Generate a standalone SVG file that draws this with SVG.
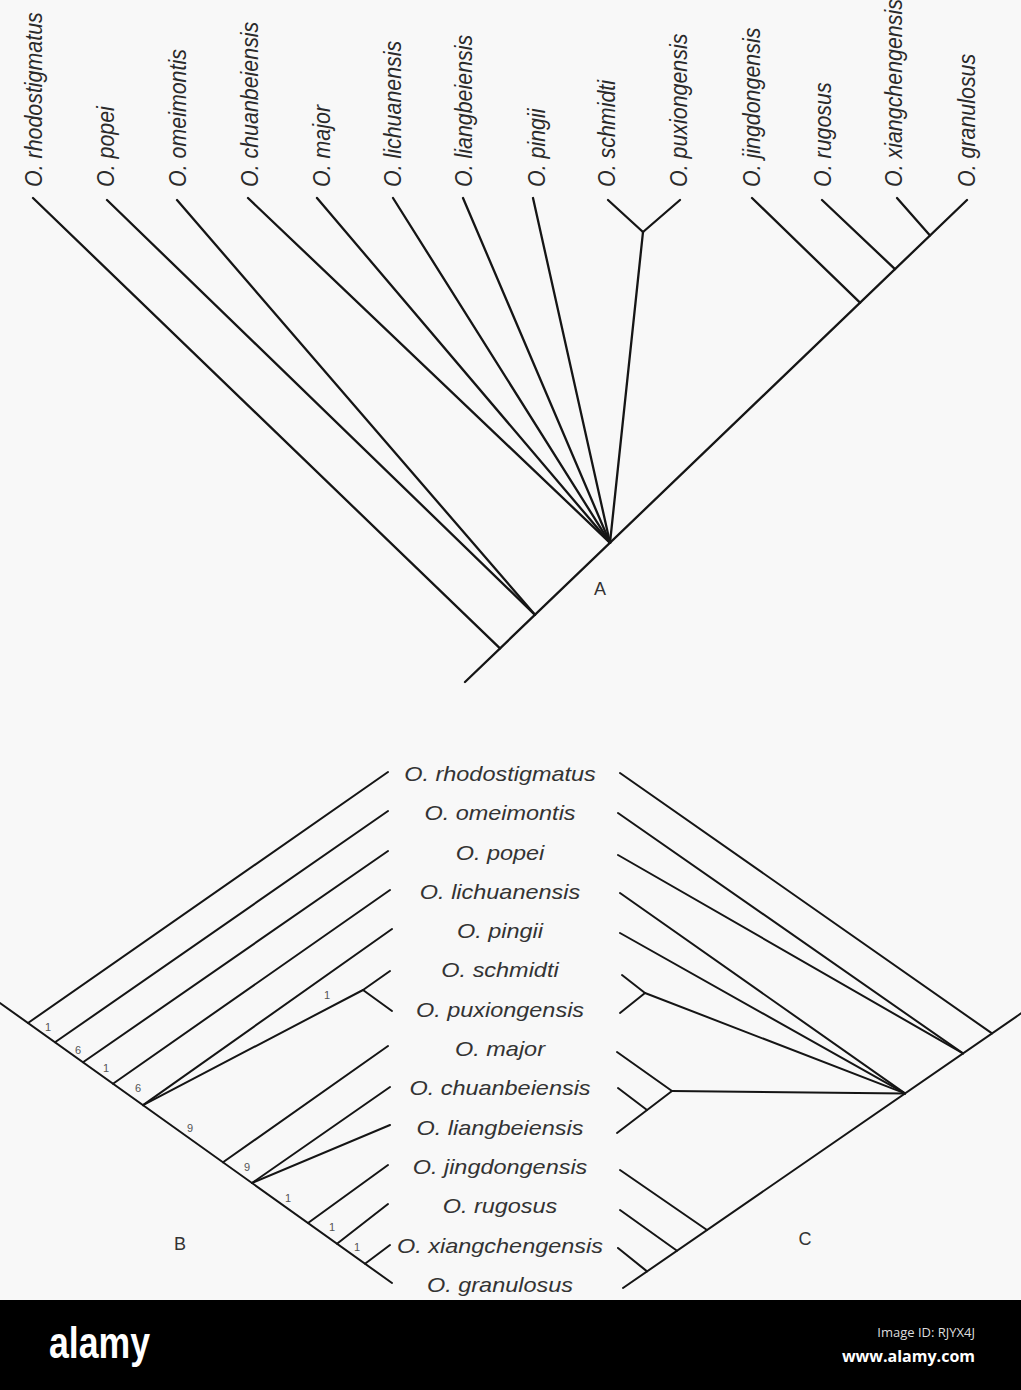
<svg xmlns="http://www.w3.org/2000/svg" width="1021" height="1390" viewBox="0 0 1021 1390">
<style>
.bg{fill:#f8f8f8}
.ln{stroke:#151515;stroke-width:2;fill:none;stroke-linecap:round;stroke-linejoin:round}
.lnA{stroke:#151515;stroke-width:2.3;fill:none;stroke-linecap:round;stroke-linejoin:round}
.ta{font-family:"Liberation Sans",Arial,sans-serif;font-style:italic;font-size:21.4px;fill:#2a2a2a}
.tb{font-family:"Liberation Sans",Arial,sans-serif;font-style:italic;font-size:20.4px;fill:#333;text-anchor:middle}
.num{font-family:"Liberation Sans",Arial,sans-serif;font-size:11px;fill:#555;text-anchor:middle}
.let{font-family:"Liberation Sans",Arial,sans-serif;font-size:18px;fill:#333;text-anchor:middle}
</style>
<rect class="bg" x="0" y="0" width="1021" height="1390"/>

<!-- Tree A labels -->
<g id="A-labels">
<g id="A-rhodostigmatus"><text class="ta" transform="translate(42,187) rotate(-90) scale(1,1.1)">O. rhodostigmatus</text></g>
<g id="A-popei"><text class="ta" transform="translate(114,187) rotate(-90) scale(1,1.1)">O. popei</text></g>
<g id="A-omeimontis"><text class="ta" transform="translate(186,187) rotate(-90) scale(1,1.1)">O. omeimontis</text></g>
<g id="A-chuanbeiensis"><text class="ta" transform="translate(258,187) rotate(-90) scale(1,1.1)">O. chuanbeiensis</text></g>
<g id="A-major"><text class="ta" transform="translate(330,187) rotate(-90) scale(1,1.1)">O. major</text></g>
<g id="A-lichuanensis"><text class="ta" transform="translate(401,187) rotate(-90) scale(1,1.1)">O. lichuanensis</text></g>
<g id="A-liangbeiensis"><text class="ta" transform="translate(472,187) rotate(-90) scale(1,1.1)">O. liangbeiensis</text></g>
<g id="A-pingii"><text class="ta" transform="translate(545,187) rotate(-90) scale(1,1.1)">O. pingii</text></g>
<g id="A-schmidti"><text class="ta" transform="translate(615,187) rotate(-90) scale(1,1.1)">O. schmidti</text></g>
<g id="A-puxiongensis"><text class="ta" transform="translate(687,187) rotate(-90) scale(1,1.1)">O. puxiongensis</text></g>
<g id="A-jingdongensis"><text class="ta" transform="translate(760,187) rotate(-90) scale(1,1.1)">O. jingdongensis</text></g>
<g id="A-rugosus"><text class="ta" transform="translate(831,187) rotate(-90) scale(1,1.1)">O. rugosus</text></g>
<g id="A-xiangchengensis"><text class="ta" transform="translate(902,187) rotate(-90) scale(1,1.1)">O. xiangchengensis</text></g>
<g id="A-granulosus"><text class="ta" transform="translate(975,187) rotate(-90) scale(1,1.1)">O. granulosus</text></g>
<g id="A-letter"><text class="let" x="600" y="595">A</text></g>
</g>

<!-- Tree A connectors -->
<g id="A-connectors" class="lnA">
<line x1="465" y1="682" x2="967" y2="200"/>
<line x1="33" y1="198" x2="500" y2="648.4"/>
<line x1="107" y1="200" x2="535" y2="614.8"/>
<line x1="177" y1="200" x2="535" y2="614.8"/>
<line x1="248" y1="198" x2="610" y2="542.8"/>
<line x1="317" y1="198" x2="610" y2="542.8"/>
<line x1="393" y1="198" x2="610" y2="542.8"/>
<line x1="463" y1="198" x2="610" y2="542.8"/>
<line x1="533" y1="198" x2="610" y2="542.8"/>
<line x1="643" y1="232" x2="610" y2="542.8"/>
<line x1="608" y1="200" x2="643" y2="232"/>
<line x1="680" y1="200" x2="643" y2="232"/>
<line x1="752" y1="198" x2="860" y2="302.7"/>
<line x1="822" y1="200" x2="895" y2="269.1"/>
<line x1="897" y1="198" x2="930" y2="235.5"/>
</g>

<!-- Shared middle labels (trees B and C) -->
<g id="BC-labels">
<g id="rhodostigmatus"><text class="tb" transform="translate(500,781) scale(1.15,1)">O. rhodostigmatus</text></g>
<g id="omeimontis"><text class="tb" transform="translate(500,820) scale(1.15,1)">O. omeimontis</text></g>
<g id="popei"><text class="tb" transform="translate(500,859.5) scale(1.15,1)">O. popei</text></g>
<g id="lichuanensis"><text class="tb" transform="translate(500,899) scale(1.15,1)">O. lichuanensis</text></g>
<g id="pingii"><text class="tb" transform="translate(500,938) scale(1.15,1)">O. pingii</text></g>
<g id="schmidti"><text class="tb" transform="translate(500,977) scale(1.15,1)">O. schmidti</text></g>
<g id="puxiongensis"><text class="tb" transform="translate(500,1017) scale(1.15,1)">O. puxiongensis</text></g>
<g id="major"><text class="tb" transform="translate(500,1056) scale(1.15,1)">O. major</text></g>
<g id="chuanbeiensis"><text class="tb" transform="translate(500,1095) scale(1.15,1)">O. chuanbeiensis</text></g>
<g id="liangbeiensis"><text class="tb" transform="translate(500,1135) scale(1.15,1)">O. liangbeiensis</text></g>
<g id="jingdongensis"><text class="tb" transform="translate(500,1174) scale(1.15,1)">O. jingdongensis</text></g>
<g id="rugosus"><text class="tb" transform="translate(500,1213) scale(1.15,1)">O. rugosus</text></g>
<g id="xiangchengensis"><text class="tb" transform="translate(500,1253) scale(1.15,1)">O. xiangchengensis</text></g>
<g id="granulosus"><text class="tb" transform="translate(500,1292) scale(1.15,1)">O. granulosus</text></g>
</g>

<!-- Tree B connectors -->
<g id="B-connectors" class="ln">
<line x1="0" y1="1003" x2="392" y2="1283"/>
<line x1="28" y1="1023" x2="388" y2="772"/>
<line x1="55" y1="1042.3" x2="388" y2="811"/>
<line x1="83" y1="1062.3" x2="388" y2="851"/>
<line x1="113" y1="1083.7" x2="390" y2="890"/>
<line x1="143" y1="1105.1" x2="392" y2="929"/>
<line x1="143" y1="1105.1" x2="363" y2="990"/>
<line x1="363" y1="990" x2="390" y2="971"/>
<line x1="363" y1="990" x2="392" y2="1011"/>
<line x1="223" y1="1162.3" x2="388" y2="1046"/>
<line x1="252" y1="1183" x2="390" y2="1087"/>
<line x1="252" y1="1183" x2="390" y2="1125"/>
<line x1="308" y1="1223" x2="388" y2="1165"/>
<line x1="337" y1="1243.7" x2="388" y2="1204"/>
<line x1="365" y1="1263.7" x2="390" y2="1245"/>
</g>
<g id="B-support">
<text class="num" x="48" y="1031">1</text>
<text class="num" x="78" y="1054">6</text>
<text class="num" x="106" y="1072">1</text>
<text class="num" x="138" y="1092">6</text>
<text class="num" x="190" y="1132">9</text>
<text class="num" x="247" y="1171">9</text>
<text class="num" x="288" y="1202">1</text>
<text class="num" x="332" y="1231">1</text>
<text class="num" x="357" y="1251">1</text>
<text class="num" x="327" y="999">1</text>
<text class="let" x="180" y="1250">B</text>
</g>

<!-- Tree C connectors -->
<g id="C-connectors" class="ln">
<line x1="623" y1="1288" x2="1021" y2="1013.4"/>
<line x1="620" y1="773" x2="992" y2="1033.4"/>
<line x1="618" y1="813" x2="963" y2="1053.4"/>
<line x1="618" y1="855" x2="963" y2="1053.4"/>
<line x1="620" y1="893" x2="905" y2="1093.4"/>
<line x1="620" y1="933" x2="905" y2="1093.4"/>
<line x1="645" y1="993" x2="905" y2="1093.4"/>
<line x1="622" y1="975" x2="645" y2="993"/>
<line x1="620" y1="1013" x2="645" y2="993"/>
<line x1="672" y1="1091" x2="905" y2="1093.4"/>
<line x1="617" y1="1052" x2="672" y2="1091"/>
<line x1="617" y1="1133" x2="672" y2="1091"/>
<line x1="618" y1="1088" x2="647" y2="1110"/>
<line x1="620" y1="1170" x2="707" y2="1230"/>
<line x1="620" y1="1210" x2="677" y2="1250.7"/>
<line x1="618" y1="1248" x2="647" y2="1271.4"/>
</g>
<g id="C-letter"><text class="let" x="805" y="1245">C</text></g>

<!-- Footer band -->
<g id="footer">
<rect x="0" y="1300" width="1021" height="90" fill="#000"/>
<text x="49" y="1358" font-family="'Liberation Sans',Arial,sans-serif" font-weight="bold" font-size="44" fill="#fff" textLength="101" lengthAdjust="spacingAndGlyphs">alamy</text>
<text x="975" y="1337" font-family="'Open Sans','DejaVu Sans',sans-serif" font-size="13" fill="#ddd" text-anchor="end">Image ID: RJYX4J</text>
<text x="975" y="1362" font-family="'Open Sans','DejaVu Sans',sans-serif" font-weight="bold" font-size="16" fill="#fff" text-anchor="end">www.alamy.com</text>
</g>
</svg>
